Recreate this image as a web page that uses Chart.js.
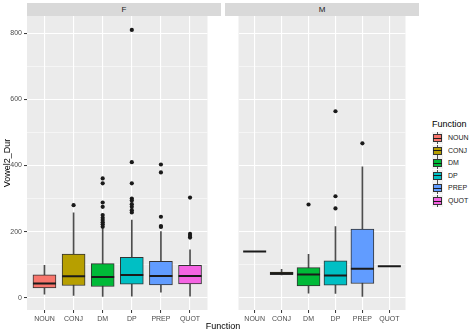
<!DOCTYPE html>
<html><head><meta charset="utf-8">
<script src="https://cdn.jsdelivr.net/npm/chart.js@4/dist/chart.umd.min.js"></script>
<style>
body{margin:0;background:#fff;width:474px;height:334px;overflow:hidden;position:relative;font-family:"Liberation Sans",Arial,sans-serif}
canvas{position:absolute;top:0}
.strip{position:absolute;top:3px;height:13px;background:#D9D9D9;color:#1A1A1A;font-size:8px;line-height:13px;text-align:center}
#xt{position:absolute;left:173px;width:100px;top:321px;text-align:center;font-size:9px;color:#000;line-height:11px}
#lt{position:absolute;left:432px;top:119px;font-size:9px;color:#000;line-height:11px}
.key{position:absolute;left:432px;width:11px;height:12px;background:#F2F2F2}
.key .wh{position:absolute;left:5px;top:0;width:1px;height:12px;background:#4D4D4D}
.key .bx{position:absolute;left:1px;top:2px;width:7px;height:6px;border:1px solid #333}
.key .md{position:absolute;left:1px;top:5.5px;width:9px;height:1.2px;background:#1a1a1a}
.lab{position:absolute;left:448px;font-size:7px;color:#1A1A1A;line-height:12px}
</style></head>
<body>
<canvas id="cF" width="221" height="334" style="left:0"></canvas>
<canvas id="cM" width="194" height="334" style="left:225px"></canvas>
<div class="strip" style="left:27px;width:194px">F</div>
<div class="strip" style="left:225px;width:194px">M</div>
<div id="xt">Function</div>
<div id="lt">Function</div>
<div id="legend"></div>
<script>
// ---- data ----
const categories = ['NOUN','CONJ','DM','DP','PREP','QUOT'];
const colors = ['#F8766D','#B79F00','#00BA38','#00BFC4','#619CFF','#F564E3'];
const yTicks = [0,100,200,300,400,500,600,700,800];

const F_low  = [11, 7, 4, 5, 17, 5];
const F_q1   = [30, 37, 34, 41, 39, 42];
const F_med  = [43, 65, 63, 69, 66, 66];
const F_q3   = [69, 132, 103, 122, 110, 98];
const F_high = [98, 257, 210, 235, 200, 145];
const F_out  = [[], [280], [361,346,288,275,250,242,235,228,222,215], [810,410,346,300,294,283,275,265,258], [403,379,245,217,214], [303,193,187,182]];

const M_low  = [140, 69, 14, 13, 4, 95];
const M_q1   = [140, 70, 36, 38, 43, 95];
const M_med  = [140, 74, 70, 67, 88, 95];
const M_q3   = [140, 78, 91, 112, 208, 95];
const M_high = [140, 86, 131, 215, 396, 95];
const M_out  = [[], [], [282], [564,307,270], [467], []];

const yMin = -37, yMax = 852;
const FONT = '"Liberation Sans", Arial, sans-serif';

const panelBg = {id:'panelBg', beforeDraw(chart){const {ctx, chartArea:a}=chart; ctx.save(); ctx.fillStyle='#EBEBEB'; ctx.fillRect(a.left,a.top,a.right-a.left,a.bottom-a.top); ctx.restore();}};

function makeChart(id, low,q1,med,q3,high,outl, showY){
  const xs = categories.map((c,i)=>i+1);
  const datasets = [
    {type:'bar', data: xs.map((x,i)=>({x, y:[low[i],high[i]]})), backgroundColor:'#4D4D4D', barThickness:1, grouped:false, order:3},
    {type:'bar', data: xs.map((x,i)=>({x, y:[q1[i],q3[i]]})), backgroundColor:colors, borderColor:'#333333', borderWidth:1, borderSkipped:false, barThickness:23, grouped:false, order:2},
    {type:'scatter', data: xs.map((x,i)=>({x, y:med[i]})), pointStyle:'line', pointRadius:11.5, borderColor:'#1a1a1a', borderWidth:2, order:1},
    {type:'scatter', data: outl.flatMap((arr,i)=>arr.map(v=>({x:i+1, y:v}))), pointRadius:2.1, backgroundColor:'#1a1a1a', borderWidth:0, order:0}
  ];
  new Chart(document.getElementById(id), {
    type:'bar',
    data:{datasets},
    plugins:[panelBg],
    options:{
      responsive:false, animation:false, events:[], devicePixelRatio:1,
      layout:{padding:{top:16,left:0,right:0,bottom:0}},
      plugins:{legend:{display:false}, tooltip:{enabled:false}},
      scales:{
        x:{type:'linear', min:0.4, max:6.6, offset:false,
          afterBuildTicks:s=>{s.ticks = xs.map(v=>({value:v}));},
          ticks:{callback:v=>categories[Math.round(v)-1], font:{size:7,family:FONT}, color:'#4D4D4D', padding:2, maxRotation:0, autoSkip:false},
          grid:{color:'#FFFFFF', lineWidth:1.1, offset:false, tickLength:3, tickColor:'#333333', tickWidth:1},
          border:{display:false},
          afterFit:s=>{s.height=24;}
        },
        y:{type:'linear', min:yMin, max:yMax,
          afterBuildTicks:s=>{s.ticks = yTicks.map(v=>({value:v}));},
          ticks:{display:showY, callback:v=> (v%200===0? String(v):''), font:{size:7,family:FONT}, color:'#4D4D4D', padding:2},
          grid:{color:'#FFFFFF', lineWidth:c=> (c.tick && c.tick.value%200===0)?1.1:0.5, drawTicks:showY, tickLength:3,
                tickColor:c=> (c.tick && c.tick.value%200===0)?'#333333':'rgba(0,0,0,0)', tickWidth:c=> (c.tick && c.tick.value%200===0)?1:0},
          border:{display:false},
          title:{display:showY, text:'Vowel2_Dur', font:{size:9,family:FONT}, color:'#000', padding:{top:2,bottom:0}},
          afterFit:s=>{s.width = showY?27:0;}
        }
      }
    }
  });
}
makeChart('cF', F_low,F_q1,F_med,F_q3,F_high,F_out,true);
makeChart('cM', M_low,M_q1,M_med,M_q3,M_high,M_out,false);

// legend
const lg = document.getElementById('legend');
categories.forEach((c,i)=>{
  const top = 132 + i*12.6;
  const k = document.createElement('div'); k.className='key'; k.style.top=top+'px';
  k.innerHTML = '<div class="wh"></div><div class="bx" style="background:'+colors[i]+'"></div><div class="md"></div>';
  lg.appendChild(k);
  const l = document.createElement('div'); l.className='lab'; l.style.top=top+'px'; l.textContent=c;
  lg.appendChild(l);
});
</script>
</body></html>
